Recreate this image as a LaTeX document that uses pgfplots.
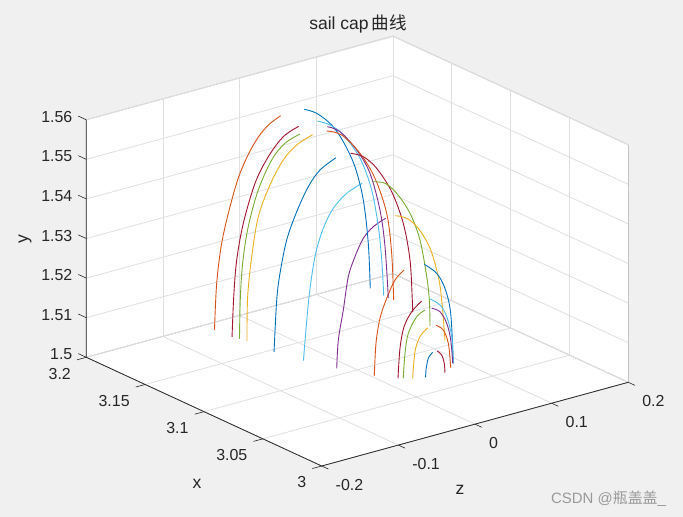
\documentclass[border=0pt]{standalone}
\usepackage{fontspec}
\usepackage{pgfplots}
\pgfplotsset{compat=1.18}
\setmainfont{Liberation Sans}
\newfontfamily\cjk{Noto Sans CJK SC}
\definecolor{mbg}{HTML}{F0F0F0}
\definecolor{mtxt}{HTML}{262626}
\definecolor{mgrid}{HTML}{DFDFDF}
\definecolor{medge}{HTML}{C4C4C4}
\definecolor{cblue}{HTML}{0072BD}
\definecolor{corange}{HTML}{D95319}
\definecolor{cyellow}{HTML}{EDB120}
\definecolor{cpurple}{HTML}{7E2F8E}
\definecolor{cgreen}{HTML}{77AC30}
\definecolor{ccyan}{HTML}{4DBEEE}
\definecolor{ccrim}{HTML}{A2142F}
\begin{document}
\begin{tikzpicture}[x=1bp,y=1bp]
\useasboundingbox (0,0) rectangle (683,517);
\fill[mbg] (0,0) rectangle (683,517);
\fill[white] (86.3,159.7) -- (86.3,397) -- (393.3,479.7) -- (628.3,372.2) -- (628.3,134.7) -- (321.7,51) -- cycle;
\begin{axis}[
  anchor=south west, at={(86.3bp,51bp)},
  x={(766.5bp,209.25bp)}, y={(-1177bp,543.5bp)}, z={(0bp,3958.3bp)},
  xmin=-0.2, xmax=0.2, ymin=3, ymax=3.2, zmin=1.5, zmax=1.56,
  clip=false,
  xtick={-0.2,-0.1,0,0.1,0.2}, xticklabels={-0.2,-0.1,0,0.1,0.2},
  ytick={3,3.05,3.1,3.15,3.2}, yticklabels={3,3.05,3.1,3.15,3.2},
  ztick={1.5,1.51,1.52,1.53,1.54,1.55,1.56}, zticklabels={1.5,1.51,1.52,1.53,1.54,1.55,1.56},
  grid=major, major grid style={mgrid,line width=0.75bp},
  axis line style={medge,line width=0.75bp},
  tick style={draw=none},
  major tick length=0pt,
  tick label style={font=\fontsize{16}{16}\selectfont,text=mtxt,inner sep=0pt,outer sep=0pt},
  xticklabel style={anchor=west,shift={(14bp,-18.7bp)}},
  yticklabel style={anchor=east,shift={(-15.5bp,-16.5bp)}},
  zticklabel style={anchor=east,shift={(-14bp,3bp)}},
  every axis plot/.append style={line width=0.9bp,smooth,tension=0.55,no markers},
]
\addplot3[corange] coordinates {(-.0635,3.18,1.50243)(-.0606,3.18,1.51407)(-.0541,3.18,1.52383)(-.0432,3.18,1.53251)(-.0302,3.18,1.54025)(-.0128,3.18,1.54649)(.0046,3.18,1.55018)(.0229,3.18,1.552)};
\addplot3[ccrim] coordinates {(-.0636,3.165,1.50273)(-.0614,3.165,1.51279)(-.0575,3.165,1.52186)(-.0489,3.165,1.53067)(-.0336,3.165,1.53997)(-.0163,3.165,1.54577)(.0033,3.165,1.54979)(.0234,3.165,1.55135)};
\addplot3[cgreen] coordinates {(-.0631,3.159,1.50302)(-.0621,3.159,1.51281)(-.059,3.159,1.52192)(-.0517,3.159,1.53078)(-.0386,3.159,1.53936)(-.0211,3.159,1.54602)(-.0038,3.159,1.54932)(.0158,3.159,1.55063)};
\addplot3[cyellow] coordinates {(-.0641,3.152,1.50352)(-.0632,3.152,1.51467)(-.0579,3.152,1.5245)(-.0493,3.152,1.53414)(-.0341,3.152,1.54135)(-.0167,3.152,1.54674)(.0008,3.152,1.54961)(.0216,3.152,1.55111)};
\addplot3[cblue] coordinates {(-.0641,3.129,1.50391)(-.0606,3.129,1.51686)(-.0563,3.129,1.52337)(-.0476,3.129,1.53132)(-.0345,3.129,1.53778)(-.0194,3.129,1.5433)(-.0041,3.129,1.54671)(.0167,3.129,1.54871)};
\addplot3[ccyan] coordinates {(-.0641,3.104,1.50518)(-.0573,3.104,1.52011)(-.0491,3.104,1.53061)(-.0382,3.104,1.53722)(-.0252,3.104,1.54158)(-.0077,3.104,1.54444)(.0127,3.104,1.5459)};
\addplot3[cpurple] coordinates {(-.0637,3.076,1.50704)(-.0616,3.076,1.51408)(-.0551,3.076,1.52132)(-.0486,3.076,1.52938)(-.0399,3.076,1.53397)(-.029,3.076,1.53805)(-.016,3.076,1.54029)(.0002,3.076,1.54156)};
\addplot3[corange] coordinates {(-.0638,3.044,1.50957)(-.0616,3.044,1.51764)(-.0564,3.044,1.52368)(-.0476,3.044,1.52827)(-.0368,3.044,1.53232)(-.025,3.044,1.53423)};
\addplot3[ccrim] coordinates {(-.0636,3.024,1.51165)(-.061,3.024,1.51909)(-.0557,3.024,1.52427)(-.0457,3.024,1.52753)(-.0327,3.024,1.52954)};
\addplot3[cgreen] coordinates {(-.0629,3.02,1.51216)(-.0606,3.02,1.51835)(-.0563,3.02,1.52318)(-.0454,3.02,1.52679)(-.0345,3.02,1.52791)};
\addplot3[cyellow] coordinates {(-.0629,3.012,1.51326)(-.0599,3.012,1.51982)(-.0534,3.012,1.52326)(-.0433,3.012,1.525)};
\addplot3[cblue] coordinates {(-.0628,3.001,1.51502)(-.0624,3.001,1.51684)(-.0594,3.001,1.51964)(-.0537,3.001,1.52085)};
\addplot3[cblue] coordinates {(.0076,3.15,1.55854)(.0238,3.15,1.55667)(.0433,3.15,1.55269)(.0585,3.15,1.54767)(.0737,3.15,1.54054)(.0846,3.15,1.53156)(.0911,3.15,1.52027)(.0937,3.15,1.50877)};
\addplot3[ccyan] coordinates {(.0093,3.14,1.55687)(.0258,3.14,1.55499)(.0432,3.14,1.55154)(.065,3.14,1.5445)(.0802,3.14,1.53569)(.0888,3.14,1.52596)(.0933,3.14,1.51732)(.0959,3.14,1.50816)};
\addplot3[cpurple] coordinates {(.0146,3.135,1.55584)(.0312,3.135,1.5537)(.053,3.135,1.54792)(.0703,3.135,1.54112)(.0833,3.135,1.53116)(.0899,3.135,1.52154)(.0942,3.135,1.50835)};
\addplot3[corange] coordinates {(.0061,3.13,1.55588)(.0257,3.13,1.55384)(.0496,3.13,1.54795)(.0691,3.13,1.5406)(.0844,3.13,1.53095)(.0909,3.13,1.52051)(.0935,3.13,1.50857)};
\addplot3[ccrim] coordinates {(.0067,3.11,1.55296)(.0232,3.11,1.55124)(.0406,3.11,1.54738)(.0602,3.11,1.54044)(.0753,3.11,1.53165)(.0841,3.11,1.52192)(.0871,3.11,1.51165)(.0876,3.11,1.50859)};
\addplot3[cgreen] coordinates {(.0047,3.09,1.54864)(.0208,3.09,1.54739)(.036,3.09,1.54406)(.0534,3.09,1.53809)(.0664,3.09,1.53065)(.0752,3.09,1.52092)(.0786,3.09,1.51485)(.0795,3.09,1.50824)};
\addplot3[cyellow] coordinates {(.0112,3.075,1.54177)(.0261,3.075,1.54033)(.0412,3.075,1.537)(.0565,3.075,1.53114)(.0673,3.075,1.52339)(.0717,3.075,1.51727)(.076,3.075,1.50694)};
\addplot3[cblue] coordinates {(.0259,3.06,1.53077)(.0421,3.06,1.52764)(.0529,3.06,1.52328)(.0604,3.06,1.51657)(.0638,3.06,1.50376)};
\addplot3[ccyan] coordinates {(.0258,3.055,1.5227)(.0388,3.055,1.5205)(.0476,3.055,1.51708)(.0541,3.055,1.51168)(.0562,3.055,1.50485)};
\addplot3[cpurple] coordinates {(.0203,3.05,1.52133)(.0311,3.05,1.5199)(.0399,3.05,1.5165)(.0451,3.05,1.51201)(.0477,3.05,1.50598)};
\addplot3[corange] coordinates {(.0182,3.045,1.51783)(.0277,3.045,1.51614)(.0343,3.045,1.51243)(.0374,3.045,1.5061)};
\addplot3[ccrim] coordinates {(.0122,3.04,1.51234)(.0179,3.04,1.51103)(.0213,3.04,1.50875)(.0222,3.04,1.50633)};
\draw[mtxt,line width=0.75bp] (axis cs:-0.2,3.2,1.56) -- (axis cs:-0.2,3.2,1.5) -- (axis cs:-0.2,3,1.5) -- (axis cs:0.2,3,1.5);
\foreach \t in {3,3.05,3.1,3.15,3.2} {
  \edef\tmp{\noexpand\draw[mtxt,line width=0.6bp] (axis cs:-0.2,\t,1.5) -- (axis cs:-0.2122,\t,1.5);}\tmp
}
\foreach \t in {-0.2,-0.1,0,0.1,0.2} {
  \edef\tmp{\noexpand\draw[mtxt,line width=0.6bp] (axis cs:\t,3,1.5) -- (axis cs:\t,2.9943,1.5);}\tmp
}
\foreach \t in {1.5,1.51,1.52,1.53,1.54,1.55,1.56} {
  \edef\tmp{\noexpand\draw[mtxt,line width=0.6bp] (axis cs:-0.2,3.2,\t) -- (axis cs:-0.2,3.2068,\t);}\tmp
}
\end{axis}
\node[font=\fontsize{17.6}{17.6}\selectfont,text=mtxt] at (358,493) {sail cap\,{\cjk 曲线}};
\node[font=\fontsize{17.6}{17.6}\selectfont,text=mtxt] at (197,33) {x};
\node[font=\fontsize{17.6}{17.6}\selectfont,text=mtxt] at (460,27) {z};
\node[font=\fontsize{17.6}{17.6}\selectfont,text=mtxt,rotate=90] at (25,278) {y};
\node[font=\fontsize{15}{15}\selectfont,text=black!40,anchor=east] at (669.5,18) {CSDN @{\cjk 瓶盖盖}\_};
\end{tikzpicture}
\end{document}
